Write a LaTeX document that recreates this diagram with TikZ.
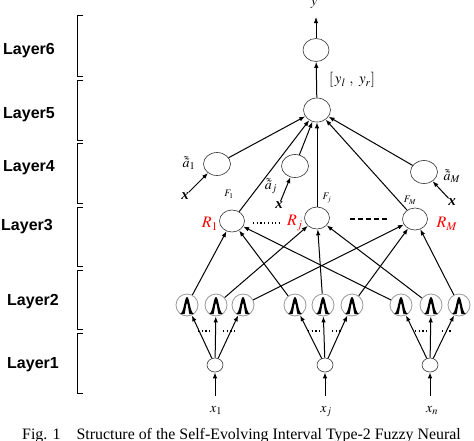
\documentclass[tikz,border=0pt]{standalone}
\usepackage{mathptmx}
\usepackage{fontspec}
\setmainfont{Liberation Serif}
\newfontfamily\lsans{Liberation Sans}
\usetikzlibrary{arrows.meta,shapes.geometric}
\begin{document}
\begin{tikzpicture}[x=1pt,y=-1pt,
  neuron/.style={draw=black!80, ellipse, line width=0.6pt, inner sep=0pt},
  arr/.style={-{Latex[length=6pt,width=4.5pt]}, line width=1pt},
  dotln/.style={line width=1.1pt, dash pattern=on 1.1pt off 2.6pt},
  mfnode/.style={circle, draw=black!40, line width=0.8pt, minimum size=22pt, inner sep=0pt},
  layerlab/.style={font=\lsans\bfseries\fontsize{16}{16}\selectfont, anchor=base west, inner sep=0pt},
  brk/.style={line width=1pt},
  lab/.style={font=\fontsize{14}{14}\selectfont, inner sep=0pt},
  small/.style={font=\fontsize{10}{10}\selectfont, inner sep=0pt},
  rlab/.style={font=\fontsize{16}{16}\selectfont, text=red, inner sep=0pt},
  bell/.pic={\fill[black] (-7,8) .. controls (-3,7) and (-2.6,-9) .. (0,-9)
      .. controls (2.6,-9) and (3,7) .. (7,8) -- (2.4,8)
      .. controls (1.4,4) and (0.8,-3) .. (0,-3)
      .. controls (-0.8,-3) and (-1.4,4) .. (-2.4,8) -- cycle;}
]
\useasboundingbox (0,0) rectangle (474,440);

% layer labels
\node[layerlab] (L6) at (3,54) {Layer6};
\node[layerlab] (L5) at (3,118) {Layer5};
\node[layerlab] (L4) at (3,171) {Layer4};
\node[layerlab] (L3) at (1,230) {Layer3};
\node[layerlab] (L2) at (7,305) {Layer2};
\node[layerlab] (L1) at (7,368) {Layer1};

% brackets
\foreach \t/\b in {15/76,80/140,143/203,207/266,270/329,333/393}{
  \draw[brk] (83,\t) -- (77,\t) -- (77,\b) -- (83,\b);
}

% layer 1
\node[neuron, minimum width=16pt, minimum height=14pt] (in1) at (215,365) {};
\node[neuron, minimum width=16pt, minimum height=14pt] (inj) at (325,365) {};
\node[neuron, minimum width=16pt, minimum height=14pt] (inn) at (430,365) {};
\coordinate (s1) at (215,396);
\coordinate (sj) at (325,396);
\coordinate (sn) at (430,396);
\draw[arr] (s1) -- (in1);
\draw[arr] (sj) -- (inj);
\draw[arr] (sn) -- (inn);
\node[lab, anchor=base] (tx1) at (216,412) {$x_1$};
\node[lab, anchor=base] (txj) at (326,412) {$x_j$};
\node[lab, anchor=base] (txn) at (432,412) {$x_n$};

% layer 2
\foreach \n/\x in {m11/187,m12/216,m13/243,m21/295,m22/323,m23/352,m31/401,m32/431,m33/459}{
  \node[mfnode] (\n) at (\x,305) {};
  \pic at (\x,306) {bell};
}
\foreach \m in {m11,m12,m13}{\draw[arr] (in1) -- (\m);}
\foreach \m in {m21,m22,m23}{\draw[arr] (inj) -- (\m);}
\foreach \m in {m31,m32,m33}{\draw[arr] (inn) -- (\m);}
\foreach \a/\b in {198/210,223/235,308/320,332/343,415/427,442/452}{
  \draw[dotln] (\a,331) -- (\b,331);
}

% layer 3
\node[neuron, minimum width=25pt, minimum height=22pt] (r1) at (232,221) {};
\node[neuron, minimum width=25pt, minimum height=22pt] (rj) at (317,218) {};
\node[neuron, minimum width=25pt, minimum height=22pt] (rm) at (415,219) {};
\foreach \m in {m11,m21,m31}{\draw[arr] (\m) -- (r1);}
\foreach \m in {m12,m22,m32}{\draw[arr] (\m) -- (rj);}
\foreach \m in {m13,m23,m33}{\draw[arr] (\m) -- (rm);}
\node[rlab] (tr1) at (210,224) {$R_1$};
\node[rlab] (trj) at (295,223) {$R_j$};
\node[rlab] (trm) at (447,224) {$R_M$};
\node[small] (f1) at (229,194) {$F_1$};
\node[small] (fj) at (327,198) {$F_j$};
\node[small] (fm) at (410,200) {$F_M$};
\draw[dotln] (253,223) -- (280,223);
\draw[line width=1.1pt, dash pattern=on 4.5pt off 3.5pt] (350,219) -- (387,219);

% layer 4
\node[neuron, minimum width=27pt, minimum height=23pt] (a1) at (217,164) {};
\node[neuron, minimum width=27pt, minimum height=23pt] (aj) at (295,166) {};
\node[neuron, minimum width=27pt, minimum height=23pt] (am) at (424,172) {};
\node[lab] (ta1) at (189,163) {$\tilde{\tilde{a}}_1$};
\node[lab] (taj) at (271,186) {$\tilde{\tilde{a}}_j$};
\node[lab] (tam) at (452,176) {$\tilde{\tilde{a}}_M$};
\node[lab, font=\fontsize{15}{15}\selectfont\bfseries\itshape] (x1) at (185,196) {x};
\node[lab, font=\fontsize{15}{15}\selectfont\bfseries\itshape] (xj) at (279,205) {x};
\node[lab, font=\fontsize{15}{15}\selectfont\bfseries\itshape] (xm) at (452,202) {x};
\draw[arr] (x1) -- (a1);
\draw[arr] (xj) -- (aj);
\draw[arr] (xm) -- (am);

% layer 5
\node[neuron, minimum width=27pt, minimum height=24pt] (l5) at (317,110) {};
\foreach \m in {a1,r1,aj,rj,rm,am}{\draw[arr] (\m) -- (l5);}

% layer 6
\node[neuron, minimum width=26pt, minimum height=23pt] (l6) at (316,50) {};
\coordinate (out) at (316,17);
\draw[arr] (l5) -- (l6);
\draw[arr] (l6) -- (out);
\node[lab, font=\fontsize{15}{15}\selectfont] (ylr) at (352,80) {$[\,y_l\ ,\ y_r]$};
\node[lab, anchor=base] (ty) at (314,5) {$y$};

% caption
\node[inner sep=0pt, anchor=base west, font=\fontsize{15.9}{16}\selectfont] (cap) at (22,439)
  {Fig. 1\quad Structure of the Self-Evolving Interval Type-2 Fuzzy Neural};
\end{tikzpicture}
\end{document}
